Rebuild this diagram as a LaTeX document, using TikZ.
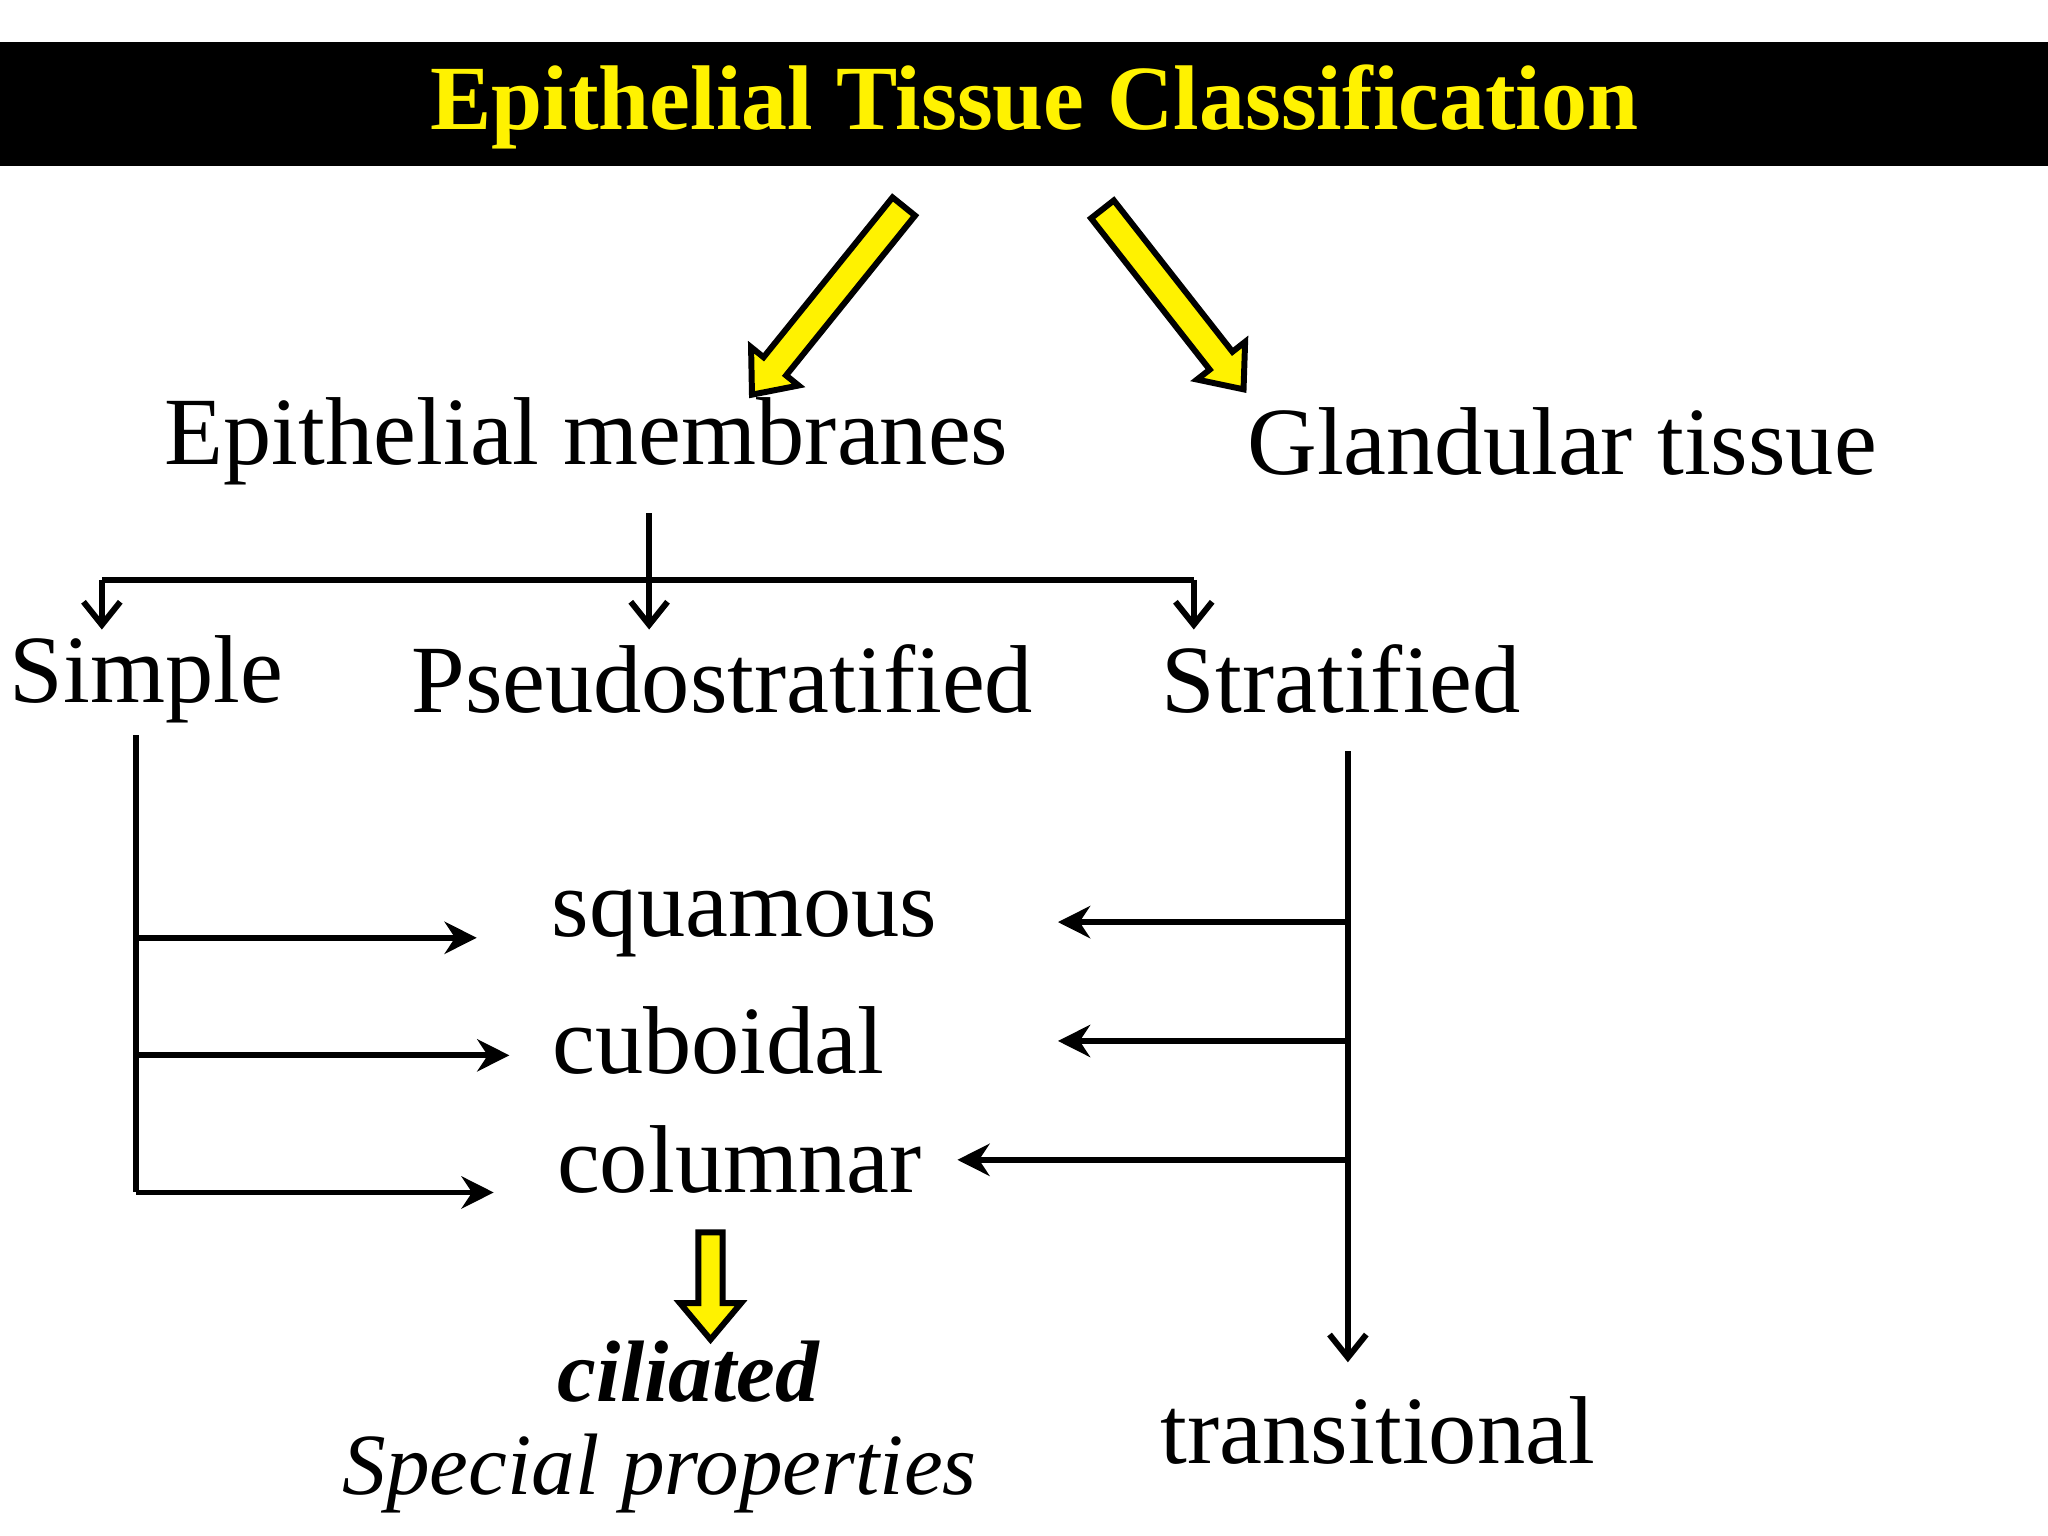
\documentclass[tikz,border=0pt]{standalone}
\usepackage{fontspec}
\setmainfont{Liberation Serif}
\usetikzlibrary{arrows.meta,shapes.arrows}
\begin{document}
\begin{tikzpicture}[x=0.01cm,y=-0.01cm,
  lbl/.style={inner sep=0pt,font=\fontsize{21}{25}\selectfont},
  ln/.style={line width=1.3pt},
  arr/.style={ln,-{Stealth[length=7pt,width=7pt]}},
  barb/.style={ln,-{Straight Barb[length=5pt,width=8pt]}},
  yarrow/.style={single arrow,draw=black,fill=yellow,line width=1.3pt,
     single arrow head extend=3.5pt,single arrow tip angle=80,inner sep=2.5pt,anchor=center}]
\useasboundingbox (0,0) rectangle (1568,1176);
\fill[black] (0,32) rectangle (1568,127);
\node[inner sep=0pt,text=yellow,font=\fontsize{20}{24}\selectfont\bfseries] (title) at (792,82) {Epithelial Tissue Classification};
\node[yarrow,minimum height=1.85cm,rotate=-128.9] (ya1) at (638,225) {};
\node[yarrow,minimum height=1.75cm,rotate=-51.9] (ya2) at (894,224) {};
\node[lbl] (em) at (449,338) {Epithelial membranes};
\node[lbl] (gt) at (1196,338) {Glandular tissue};
\node[lbl] (simple) at (112,520) {Simple};
\node[lbl] (pseudo) at (553,520) {Pseudostratified};
\node[lbl] (strat) at (1027,520) {Stratified};
\node[lbl] (squ) at (570,707) {squamous};
\node[lbl] (cub) at (550,797) {cuboidal};
\node[lbl] (col) at (566,888) {columnar};
\node[lbl,font=\fontsize{19}{23}\selectfont\bfseries\itshape] (cil) at (527,1050) {ciliated};
\node[lbl,font=\fontsize{19}{23}\selectfont\itshape] (sp) at (505,1128) {Special properties};
\node[lbl] (tr) at (1055,1095) {transitional};
% branch
\coordinate (b0) at (497,393);
\coordinate (bl) at (78,444);
\coordinate (br) at (914,444);
\draw[barb] (b0) -- (497,482);
\draw[ln] (bl) -- (br);
\draw[barb] (bl) -- (78,482);
\draw[barb] (br) -- (914,482);
% simple
\coordinate (s0) at (104,563);
\coordinate (s1) at (104,718);
\coordinate (s2) at (104,808);
\coordinate (s3) at (104,913);
\draw[ln] (s0) -- (s3);
\draw[arr] (s1) -- (365,718);
\draw[arr] (s2) -- (390,808);
\draw[arr] (s3) -- (378,913);
% stratified
\coordinate (t0) at (1032,575);
\coordinate (t1) at (1032,706);
\coordinate (t2) at (1032,797);
\coordinate (t3) at (1032,888);
\draw[barb] (t0) -- (1032,1043);
\draw[arr] (t1) -- (810,706);
\draw[arr] (t2) -- (810,797);
\draw[arr] (t3) -- (733,888);
\node[yarrow,minimum height=0.82cm,rotate=-90,single arrow head extend=4pt,inner sep=2pt] (ya3) at (544,979) {};
\end{tikzpicture}
\end{document}
